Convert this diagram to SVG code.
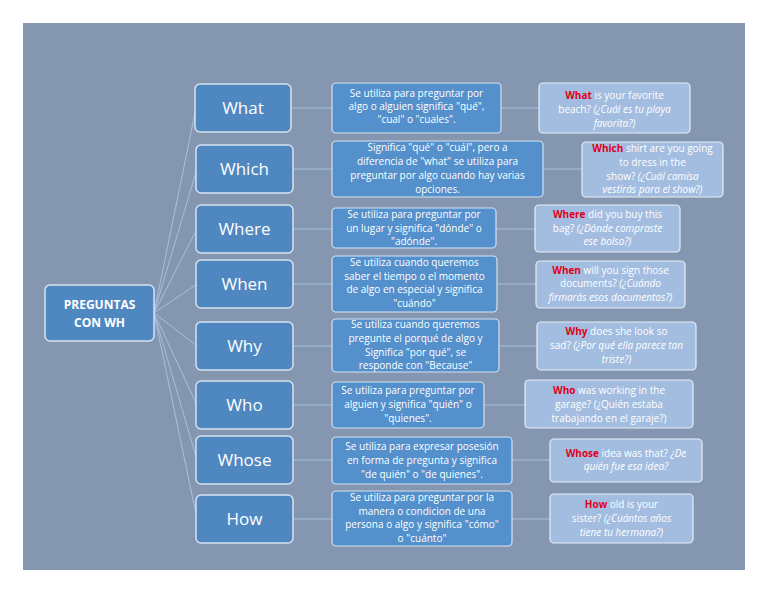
<svg xmlns="http://www.w3.org/2000/svg" width="768" height="594" viewBox="0 0 768 594">
<style>
.wh rect{fill:#4f87c0;stroke:#d6e2f0;stroke-width:1.5}
.wh text{fill:#fff;font:17px "Open Sans",sans-serif;text-anchor:middle}
.d rect{fill:#5390cc;stroke:#d6e2f0;stroke-width:1.2}
.d text{fill:#fff;font:10px "Open Sans",sans-serif;text-anchor:middle}
.e rect{fill:#a3bde0;stroke:#e6eef8;stroke-width:1.2}
.e text{fill:#fff;font:10px "Open Sans",sans-serif;text-anchor:middle}
.e tspan.r{fill:#e0001a;font-weight:bold}
.e .i{font-style:italic}
.c line{stroke:#a9c0de;stroke-width:1}
</style>
<rect width="768" height="594" fill="#fff"/>
<rect x="23" y="23" width="722" height="547" fill="#8596b0"/>
<g class="c">
<line x1="154" y1="313" x2="196" y2="108"/><line x1="154" y1="313" x2="197" y2="169"/>
<line x1="154" y1="313" x2="197" y2="229"/><line x1="154" y1="313" x2="197" y2="284"/>
<line x1="154" y1="313" x2="197" y2="346"/><line x1="154" y1="313" x2="197" y2="405"/>
<line x1="154" y1="313" x2="197" y2="460"/><line x1="154" y1="313" x2="197" y2="519"/>
<line x1="291" y1="108" x2="332" y2="108"/><line x1="501" y1="108" x2="539" y2="108"/>
<line x1="293" y1="169" x2="332" y2="169"/><line x1="543" y1="169" x2="582" y2="169"/>
<line x1="293" y1="229" x2="332" y2="229"/><line x1="496" y1="229" x2="535" y2="229"/>
<line x1="293" y1="284" x2="332" y2="284"/><line x1="497" y1="284" x2="536" y2="284"/>
<line x1="293" y1="346" x2="332" y2="346"/><line x1="499" y1="346" x2="537" y2="346"/>
<line x1="293" y1="405" x2="332" y2="405"/><line x1="484" y1="405" x2="525" y2="405"/>
<line x1="293" y1="460" x2="332" y2="460"/><line x1="512" y1="460" x2="550" y2="460"/>
<line x1="293" y1="519" x2="332" y2="519"/><line x1="512" y1="519" x2="550" y2="519"/>
</g>
<g id="root" class="wh"><rect x="45" y="285" width="109" height="56" rx="5" fill="#4478ad"/><text x="99.5" y="309" style="font-size:12px;font-weight:bold">PREGUNTAS</text><text x="99.5" y="327" style="font-size:12px;font-weight:bold">CON WH</text></g>
<g id="what" class="wh"><rect x="195" y="84" width="96" height="48" rx="5"/><text x="243" y="114">What</text></g>
<g id="which" class="wh"><rect x="196" y="145" width="97" height="48" rx="5"/><text x="244.5" y="175">Which</text></g>
<g id="where" class="wh"><rect x="196" y="205" width="97" height="48" rx="5"/><text x="244.5" y="235">Where</text></g>
<g id="when" class="wh"><rect x="196" y="260" width="97" height="48" rx="5"/><text x="244.5" y="290">When</text></g>
<g id="why" class="wh"><rect x="196" y="322" width="97" height="48" rx="5"/><text x="244.5" y="352">Why</text></g>
<g id="who" class="wh"><rect x="196" y="381" width="97" height="48" rx="5"/><text x="244.5" y="411">Who</text></g>
<g id="whose" class="wh"><rect x="196" y="436" width="97" height="48" rx="5"/><text x="244.5" y="466">Whose</text></g>
<g id="how" class="wh"><rect x="196" y="495" width="97" height="48" rx="5"/><text x="244.5" y="525">How</text></g>

<g id="d-what" class="d"><rect x="332" y="83" width="169" height="50" rx="4"/><text x="416.5" y="97">Se utiliza para preguntar por</text><text x="416.5" y="110">algo o alguien significa "qué",</text><text x="416.5" y="123">"cual" o "cuales".</text></g>
<g id="d-which" class="d"><rect x="332" y="141" width="211" height="56" rx="4"/><text x="437.5" y="151">Significa "qué" o "cuál", pero a</text><text x="437.5" y="165">diferencia de "what" se utiliza para</text><text x="437.5" y="179">preguntar por algo cuando hay varias</text><text x="437.5" y="193">opciones.</text></g>
<g id="d-where" class="d"><rect x="332" y="208" width="164" height="40" rx="4"/><text x="414" y="218">Se utiliza para preguntar por</text><text x="414" y="232">un lugar y significa "dónde" o</text><text x="414" y="245">"adónde".</text></g>
<g id="d-when" class="d"><rect x="332" y="256" width="165" height="56" rx="4"/><text x="414.5" y="266">Se utiliza cuando queremos</text><text x="414.5" y="280">saber el tiempo o el momento</text><text x="414.5" y="293">de algo en especial y significa</text><text x="414.5" y="307">"cuándo"</text></g>
<g id="d-why" class="d"><rect x="332" y="319" width="167" height="53" rx="4"/><text x="415.5" y="328">Se utiliza cuando queremos</text><text x="415.5" y="342">pregunte el porqué de algo y</text><text x="415.5" y="356">Significa "por qué", se</text><text x="415.5" y="369">responde con "Because"</text></g>
<g id="d-who" class="d"><rect x="332" y="382" width="152" height="46" rx="4"/><text x="408" y="394">Se utiliza para preguntar por</text><text x="408" y="408">alguien y significa "quién" o</text><text x="408" y="422">"quienes".</text></g>
<g id="d-whose" class="d"><rect x="332" y="437" width="180" height="47" rx="4"/><text x="422" y="450">Se utiliza para expresar posesión</text><text x="422" y="464">en forma de pregunta y significa</text><text x="422" y="478">"de quién" o "de quienes".</text></g>
<g id="d-how" class="d"><rect x="332" y="491" width="180" height="55" rx="4"/><text x="422" y="501">Se utiliza para preguntar por la</text><text x="422" y="515">manera o condicion de una</text><text x="422" y="528">persona o algo y significa "cómo"</text><text x="422" y="542">o "cuánto"</text></g>

<g id="e-what" class="e"><rect x="539" y="83" width="151" height="50" rx="4"/><text x="614.5" y="99"><tspan class="r">What</tspan> is your favorite</text><text x="614.5" y="113">beach? <tspan class="i">(¿Cuál es tu playa</tspan></text><text x="614.5" y="127" class="i">favorita?)</text></g>
<g id="e-which" class="e"><rect x="582" y="142" width="141" height="55" rx="4"/><text x="652.5" y="152"><tspan class="r">Which</tspan> shirt are you going</text><text x="652.5" y="166">to dress in the</text><text x="652.5" y="180">show? <tspan class="i">(¿Cuál camisa</tspan></text><text x="652.5" y="193" class="i">vestirás para el show?)</text></g>
<g id="e-where" class="e"><rect x="535" y="205" width="145" height="47" rx="4"/><text x="607.5" y="218"><tspan class="r">Where</tspan> did you buy this</text><text x="607.5" y="232">bag? <tspan class="i">(¿Dónde compraste</tspan></text><text x="607.5" y="245" class="i">ese bolso?)</text></g>
<g id="e-when" class="e"><rect x="536" y="261" width="149" height="47" rx="4"/><text x="610.5" y="274"><tspan class="r">When</tspan> will you sign those</text><text x="610.5" y="287">documents? <tspan class="i">(¿Cuándo</tspan></text><text x="610.5" y="301" class="i">firmarás esos documentos?)</text></g>
<g id="e-why" class="e"><rect x="537" y="322" width="159" height="48" rx="4"/><text x="616.5" y="335"><tspan class="r">Why</tspan> does she look so</text><text x="616.5" y="349">sad? <tspan class="i">(¿Por qué ella parece tan</tspan></text><text x="616.5" y="363" class="i">triste?)</text></g>
<g id="e-who" class="e"><rect x="525" y="380" width="168" height="48" rx="4"/><text x="609" y="394"><tspan class="r">Who</tspan> was working in the</text><text x="609" y="408">garage? (¿Quién estaba</text><text x="609" y="422">trabajando en el garaje?)</text></g>
<g id="e-whose" class="e"><rect x="550" y="439" width="152" height="43" rx="4"/><text x="626" y="457"><tspan class="r">Whose</tspan> idea was that? <tspan class="i">¿De</tspan></text><text x="626" y="470" class="i">quién fue esa idea?</text></g>
<g id="e-how" class="e"><rect x="550" y="494" width="143" height="49" rx="4"/><text x="621.5" y="508"><tspan class="r">How</tspan> old is your</text><text x="621.5" y="522">sister? <tspan class="i">(¿Cuántos años</tspan></text><text x="621.5" y="536" class="i">tiene tu hermana?)</text></g>
</svg>
